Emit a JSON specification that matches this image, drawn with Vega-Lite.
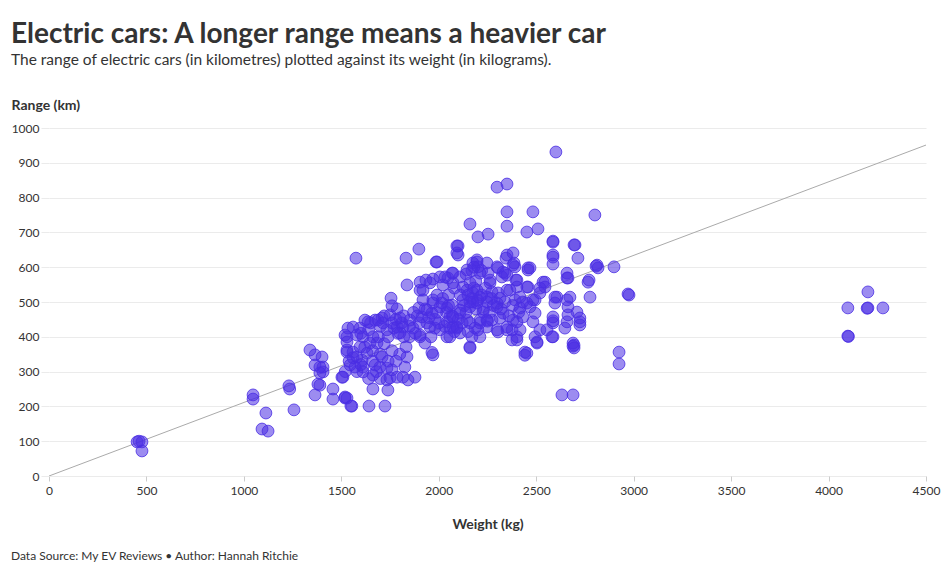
{
  "$schema": "https://vega.github.io/schema/vega-lite/v6.json",
  "description": "Range of electric cars plotted against their weight",
  "padding": {"left": 11, "top": 20, "right": 12, "bottom": 12},
  "background": "white",
  "config": {
    "font": "Lato",
    "view": {"stroke": null},
    "title": {"color": "#333333"}
  },
  "title": {
    "text": "Electric cars: A longer range means a heavier car",
    "subtitle": "The range of electric cars (in kilometres) plotted against its weight (in kilograms).",
    "anchor": "start",
    "frame": "bounds",
    "fontSize": 28,
    "fontWeight": "bold",
    "subtitleFontSize": 15.5,
    "subtitleColor": "#333333",
    "subtitlePadding": 4,
    "offset": 30
  },
  "datasets": {
    "cars": [
      {"weight": 452, "range": 98}, {"weight": 477, "range": 98}, {"weight": 477, "range": 72}, {"weight": 462, "range": 100},
      {"weight": 1047, "range": 233}, {"weight": 1047, "range": 221}, {"weight": 1113, "range": 181}, {"weight": 1093, "range": 135},
      {"weight": 1124, "range": 129}, {"weight": 1231, "range": 259}, {"weight": 1235, "range": 250}, {"weight": 1257, "range": 190},
      {"weight": 1339, "range": 362}, {"weight": 1365, "range": 348}, {"weight": 1365, "range": 319}, {"weight": 1390, "range": 313},
      {"weight": 1406, "range": 299}, {"weight": 1380, "range": 264}, {"weight": 1365, "range": 233}, {"weight": 1457, "range": 221},
      {"weight": 1519, "range": 224}, {"weight": 1549, "range": 201}, {"weight": 1508, "range": 284}, {"weight": 1529, "range": 362},
      {"weight": 1529, "range": 400}, {"weight": 1575, "range": 626},
      {"weight": 1832, "range": 626}, {"weight": 1898, "range": 652}, {"weight": 1986, "range": 615}, {"weight": 2093, "range": 661},
      {"weight": 2093, "range": 641}, {"weight": 1837, "range": 549}, {"weight": 1755, "range": 511}, {"weight": 1760, "range": 489},
      {"weight": 1898, "range": 483}, {"weight": 1904, "range": 557}, {"weight": 1934, "range": 563}, {"weight": 1970, "range": 566},
      {"weight": 2006, "range": 572}, {"weight": 2021, "range": 549}, {"weight": 2047, "range": 569}, {"weight": 2073, "range": 583},
      {"weight": 1904, "range": 534}, {"weight": 1919, "range": 506}, {"weight": 1991, "range": 520}, {"weight": 1970, "range": 497},
      {"weight": 2016, "range": 497}, {"weight": 2042, "range": 483}, {"weight": 2068, "range": 491}, {"weight": 2073, "range": 457},
      {"weight": 2057, "range": 425}, {"weight": 2093, "range": 425}, {"weight": 1980, "range": 425}, {"weight": 1965, "range": 468},
      {"weight": 1939, "range": 440}, {"weight": 1904, "range": 405}, {"weight": 1929, "range": 382}, {"weight": 1970, "range": 348},
      {"weight": 1965, "range": 355}, {"weight": 1786, "range": 428}, {"weight": 1734, "range": 420}, {"weight": 1770, "range": 425},
      {"weight": 1816, "range": 428}, {"weight": 1801, "range": 411}, {"weight": 1852, "range": 448}, {"weight": 1868, "range": 425},
      {"weight": 1709, "range": 454}, {"weight": 1688, "range": 448}, {"weight": 1673, "range": 448}, {"weight": 1714, "range": 440},
      {"weight": 1750, "range": 463}, {"weight": 1801, "range": 454}, {"weight": 1786, "range": 480}, {"weight": 1621, "range": 448},
      {"weight": 1637, "range": 443}, {"weight": 1596, "range": 425}, {"weight": 1560, "range": 428}, {"weight": 1534, "range": 425},
      {"weight": 1519, "range": 405}, {"weight": 1580, "range": 405}, {"weight": 1611, "range": 400}, {"weight": 1662, "range": 400},
      {"weight": 1683, "range": 382}, {"weight": 1647, "range": 382}, {"weight": 1529, "range": 385}, {"weight": 1529, "range": 356},
      {"weight": 1596, "range": 371}, {"weight": 1580, "range": 342}, {"weight": 1606, "range": 333}, {"weight": 1632, "range": 353},
      {"weight": 1560, "range": 356}, {"weight": 1611, "range": 313}, {"weight": 1570, "range": 313}, {"weight": 1545, "range": 319},
      {"weight": 1503, "range": 284}, {"weight": 1611, "range": 299}, {"weight": 1662, "range": 290}, {"weight": 1673, "range": 319},
      {"weight": 1709, "range": 342}, {"weight": 1698, "range": 313}, {"weight": 1734, "range": 310}, {"weight": 1760, "range": 305},
      {"weight": 1750, "range": 282}, {"weight": 1734, "range": 276}, {"weight": 1786, "range": 284}, {"weight": 1816, "range": 284},
      {"weight": 1842, "range": 276}, {"weight": 1878, "range": 284}, {"weight": 1826, "range": 313}, {"weight": 1837, "range": 342},
      {"weight": 1832, "range": 371}, {"weight": 1662, "range": 250}, {"weight": 1739, "range": 247}, {"weight": 1457, "range": 250},
      {"weight": 1519, "range": 227}, {"weight": 1529, "range": 224}, {"weight": 1554, "range": 201}, {"weight": 1642, "range": 201},
      {"weight": 1724, "range": 201}, {"weight": 1401, "range": 342}, {"weight": 1406, "range": 313}, {"weight": 1390, "range": 296},
      {"weight": 1390, "range": 261},
      {"weight": 2601, "range": 931}, {"weight": 2299, "range": 830}, {"weight": 2350, "range": 839}, {"weight": 2350, "range": 759},
      {"weight": 2483, "range": 759}, {"weight": 2801, "range": 750}, {"weight": 2160, "range": 724}, {"weight": 2350, "range": 718},
      {"weight": 2452, "range": 701}, {"weight": 2509, "range": 710}, {"weight": 2253, "range": 695}, {"weight": 2201, "range": 687},
      {"weight": 2586, "range": 675}, {"weight": 2694, "range": 664}, {"weight": 2099, "range": 661}, {"weight": 2099, "range": 635},
      {"weight": 2381, "range": 641}, {"weight": 2345, "range": 626}, {"weight": 2586, "range": 629}, {"weight": 2714, "range": 626},
      {"weight": 2586, "range": 609}, {"weight": 2468, "range": 598}, {"weight": 2386, "range": 612}, {"weight": 2807, "range": 603},
      {"weight": 2817, "range": 598}, {"weight": 2899, "range": 601}, {"weight": 2196, "range": 615}, {"weight": 2201, "range": 601},
      {"weight": 2299, "range": 601}, {"weight": 2330, "range": 586}, {"weight": 2391, "range": 601}, {"weight": 2658, "range": 583},
      {"weight": 2658, "range": 569}, {"weight": 2771, "range": 563}, {"weight": 2971, "range": 523}, {"weight": 2776, "range": 514},
      {"weight": 2709, "range": 471}, {"weight": 2724, "range": 443}, {"weight": 2724, "range": 434}, {"weight": 2663, "range": 463},
      {"weight": 2596, "range": 514}, {"weight": 2596, "range": 497}, {"weight": 2535, "range": 557}, {"weight": 2545, "range": 543},
      {"weight": 2519, "range": 526}, {"weight": 2494, "range": 506}, {"weight": 2452, "range": 543}, {"weight": 2452, "range": 497},
      {"weight": 2494, "range": 468}, {"weight": 2483, "range": 443}, {"weight": 2519, "range": 420}, {"weight": 2555, "range": 420},
      {"weight": 2586, "range": 400}, {"weight": 2586, "range": 457}, {"weight": 2586, "range": 440}, {"weight": 2658, "range": 443},
      {"weight": 2647, "range": 425}, {"weight": 2504, "range": 385}, {"weight": 2442, "range": 356}, {"weight": 2442, "range": 347},
      {"weight": 2401, "range": 391}, {"weight": 2376, "range": 420}, {"weight": 2401, "range": 443}, {"weight": 2417, "range": 483},
      {"weight": 2391, "range": 506}, {"weight": 2396, "range": 563}, {"weight": 2401, "range": 543}, {"weight": 2350, "range": 534},
      {"weight": 2350, "range": 577}, {"weight": 2324, "range": 572}, {"weight": 2304, "range": 598}, {"weight": 2263, "range": 555},
      {"weight": 2273, "range": 529}, {"weight": 2314, "range": 511}, {"weight": 2314, "range": 454}, {"weight": 2304, "range": 414},
      {"weight": 2350, "range": 428}, {"weight": 2376, "range": 391}, {"weight": 2227, "range": 471}, {"weight": 2247, "range": 448},
      {"weight": 2273, "range": 448}, {"weight": 2211, "range": 440}, {"weight": 2186, "range": 425}, {"weight": 2170, "range": 400},
      {"weight": 2160, "range": 368}, {"weight": 2109, "range": 411}, {"weight": 2073, "range": 428}, {"weight": 2042, "range": 400},
      {"weight": 2042, "range": 443}, {"weight": 2109, "range": 468}, {"weight": 2145, "range": 448}, {"weight": 2247, "range": 500},
      {"weight": 2304, "range": 526}, {"weight": 2299, "range": 486}, {"weight": 2211, "range": 514}, {"weight": 2175, "range": 500},
      {"weight": 2196, "range": 534}, {"weight": 2160, "range": 555}, {"weight": 2124, "range": 543}, {"weight": 2109, "range": 572},
      {"weight": 2068, "range": 583}, {"weight": 2032, "range": 572}, {"weight": 2145, "range": 592}, {"weight": 2211, "range": 583},
      {"weight": 2253, "range": 583}, {"weight": 2175, "range": 612},
      {"weight": 2925, "range": 356}, {"weight": 2925, "range": 322}, {"weight": 2694, "range": 376}, {"weight": 2694, "range": 368},
      {"weight": 2632, "range": 233}, {"weight": 2689, "range": 233},
      {"weight": 2586, "range": 672}, {"weight": 2699, "range": 664}, {"weight": 2586, "range": 635}, {"weight": 2812, "range": 606},
      {"weight": 2766, "range": 557}, {"weight": 2976, "range": 520}, {"weight": 2663, "range": 569}, {"weight": 2545, "range": 557},
      {"weight": 2519, "range": 540}, {"weight": 2483, "range": 506}, {"weight": 2458, "range": 598}, {"weight": 2458, "range": 543},
      {"weight": 2606, "range": 514}, {"weight": 2658, "range": 506}, {"weight": 2673, "range": 514}, {"weight": 2663, "range": 486},
      {"weight": 2724, "range": 454}, {"weight": 2586, "range": 446}, {"weight": 2581, "range": 400}, {"weight": 2494, "range": 400},
      {"weight": 2504, "range": 382}, {"weight": 2417, "range": 420}, {"weight": 2689, "range": 382}, {"weight": 2689, "range": 373},
      {"weight": 1991, "range": 615}, {"weight": 2196, "range": 621}, {"weight": 2350, "range": 635}, {"weight": 2381, "range": 606},
      {"weight": 2458, "range": 592}, {"weight": 2340, "range": 583}, {"weight": 2247, "range": 612}, {"weight": 1955, "range": 555},
      {"weight": 1919, "range": 534}, {"weight": 2073, "range": 555}, {"weight": 2263, "range": 563}, {"weight": 2401, "range": 563},
      {"weight": 2365, "range": 534}, {"weight": 2417, "range": 514}, {"weight": 2468, "range": 486}, {"weight": 2432, "range": 457},
      {"weight": 2381, "range": 448}, {"weight": 2330, "range": 468}, {"weight": 2299, "range": 497}, {"weight": 2247, "range": 514},
      {"weight": 2175, "range": 526}, {"weight": 2145, "range": 534}, {"weight": 2124, "range": 506}, {"weight": 2160, "range": 486},
      {"weight": 2196, "range": 497}, {"weight": 2109, "range": 477}, {"weight": 2057, "range": 457}, {"weight": 2006, "range": 486},
      {"weight": 1970, "range": 506}, {"weight": 1939, "range": 477}, {"weight": 1955, "range": 428}, {"weight": 2006, "range": 420},
      {"weight": 2057, "range": 400}, {"weight": 2093, "range": 428}, {"weight": 2160, "range": 440}, {"weight": 2211, "range": 448},
      {"weight": 2247, "range": 428}, {"weight": 2299, "range": 420}, {"weight": 2350, "range": 420}, {"weight": 2401, "range": 400},
      {"weight": 2211, "range": 400}, {"weight": 2160, "range": 371}, {"weight": 2452, "range": 353}, {"weight": 1904, "range": 400},
      {"weight": 1914, "range": 457},
      {"weight": 2150, "range": 520}, {"weight": 2170, "range": 510}, {"weight": 2180, "range": 540}, {"weight": 2200, "range": 505},
      {"weight": 2160, "range": 500}, {"weight": 2190, "range": 480}, {"weight": 2130, "range": 490}, {"weight": 2220, "range": 520},
      {"weight": 2140, "range": 470}, {"weight": 2110, "range": 520}, {"weight": 2190, "range": 560}, {"weight": 2230, "range": 480},
      {"weight": 2260, "range": 470}, {"weight": 2280, "range": 490}, {"weight": 2050, "range": 520}, {"weight": 2080, "range": 540},
      {"weight": 2020, "range": 510}, {"weight": 2040, "range": 470}, {"weight": 1990, "range": 470}, {"weight": 1980, "range": 450},
      {"weight": 2000, "range": 440}, {"weight": 2070, "range": 460}, {"weight": 2100, "range": 450}, {"weight": 2120, "range": 440},
      {"weight": 2240, "range": 540}, {"weight": 2270, "range": 510}, {"weight": 2320, "range": 480}, {"weight": 2340, "range": 500},
      {"weight": 2360, "range": 460}, {"weight": 2380, "range": 490}, {"weight": 2410, "range": 470}, {"weight": 2430, "range": 500},
      {"weight": 2250, "range": 445}, {"weight": 2200, "range": 420}, {"weight": 2150, "range": 415}, {"weight": 2080, "range": 415},
      {"weight": 2030, "range": 430}, {"weight": 2050, "range": 490}, {"weight": 2170, "range": 590}, {"weight": 2140, "range": 580},
      {"weight": 2180, "range": 600}, {"weight": 2220, "range": 590},
      {"weight": 1810, "range": 440}, {"weight": 1850, "range": 430}, {"weight": 1880, "range": 410}, {"weight": 1790, "range": 410},
      {"weight": 1760, "range": 440}, {"weight": 1820, "range": 460}, {"weight": 1890, "range": 460}, {"weight": 1870, "range": 470},
      {"weight": 1900, "range": 440}, {"weight": 1950, "range": 455}, {"weight": 1930, "range": 480}, {"weight": 1960, "range": 400},
      {"weight": 1850, "range": 400}, {"weight": 1820, "range": 400}, {"weight": 1780, "range": 450},
      {"weight": 1650, "range": 440}, {"weight": 1700, "range": 430}, {"weight": 1720, "range": 460}, {"weight": 1690, "range": 400},
      {"weight": 1640, "range": 420}, {"weight": 1600, "range": 410}, {"weight": 1720, "range": 380}, {"weight": 1660, "range": 360},
      {"weight": 1700, "range": 350}, {"weight": 1620, "range": 370}, {"weight": 1740, "range": 400}, {"weight": 1760, "range": 360},
      {"weight": 1780, "range": 330}, {"weight": 1800, "range": 350}, {"weight": 1740, "range": 330}, {"weight": 1660, "range": 330},
      {"weight": 1680, "range": 300}, {"weight": 1700, "range": 280}, {"weight": 1640, "range": 280}, {"weight": 1600, "range": 320},
      {"weight": 1560, "range": 340}, {"weight": 1580, "range": 300}, {"weight": 1520, "range": 300}, {"weight": 1540, "range": 330},
      {"weight": 4099, "range": 483}, {"weight": 4202, "range": 529}, {"weight": 4202, "range": 483}, {"weight": 4198, "range": 482},
      {"weight": 4279, "range": 483}, {"weight": 4099, "range": 402}, {"weight": 4102, "range": 401}
    ],
    "trend": [
      {"weight": 0, "range": 0},
      {"weight": 4500, "range": 951}
    ]
  },
  "vconcat": [
    {
      "title": {
        "text": "Data Source: My EV Reviews • Author: Hannah Ritchie",
        "orient": "bottom",
        "anchor": "start",
        "frame": "bounds",
        "fontSize": 12,
        "fontWeight": "normal",
        "color": "#333333",
        "offset": 20
      },
      "width": 877,
      "height": 348,
      "encoding": {
        "x": {
          "field": "weight",
          "type": "quantitative",
          "title": "Weight (kg)",
          "scale": {"domain": [0, 4500], "nice": false},
          "axis": {
            "values": [0, 500, 1000, 1500, 2000, 2500, 3000, 3500, 4000, 4500],
            "format": "d",
            "labelOverlap": false,
            "labelFlush": false,
            "grid": false,
            "domain": false,
            "tickColor": "#cccccc",
            "tickSize": 5,
            "labelFontSize": 12,
            "labelColor": "#333333",
            "labelPadding": 4,
            "titleFontSize": 14,
            "titleFontWeight": "bold",
            "titleColor": "#333333",
            "titlePadding": 21
          }
        },
        "y": {
          "field": "range",
          "type": "quantitative",
          "title": "Range (km)",
          "scale": {"domain": [0, 1000], "nice": false},
          "axis": {
            "values": [0, 100, 200, 300, 400, 500, 600, 700, 800, 900, 1000],
            "format": "d",
            "labelOverlap": false,
            "grid": true,
            "gridColor": "#ebebeb",
            "domain": false,
            "tickColor": "#ebebeb",
            "tickSize": 8,
            "labelFontSize": 12,
            "labelColor": "#333333",
            "labelPadding": 2,
            "titleFontSize": 14,
            "titleFontWeight": "bold",
            "titleColor": "#333333",
            "titleAngle": 0,
            "titleAlign": "left",
            "titleBaseline": "bottom",
            "titleX": -38,
            "titleY": -16
          }
        }
      },
      "layer": [
        {
          "data": {"name": "trend"},
          "mark": {"type": "line", "color": "#aaaaaa", "strokeWidth": 1, "clip": true}
        },
        {
          "data": {"name": "cars"},
          "mark": {
            "type": "circle",
            "size": 140,
            "color": "#4a2ee4",
            "fillOpacity": 0.55,
            "stroke": "#4a2ee4",
            "strokeOpacity": 0.8,
            "strokeWidth": 1
          }
        }
      ]
    }
  ]
}
